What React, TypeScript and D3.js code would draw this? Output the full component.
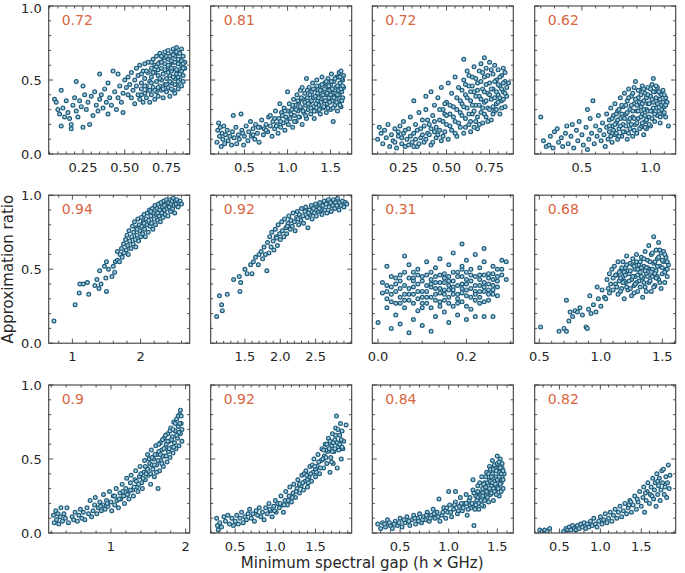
import * as d3 from 'd3';

type Pt = [number, number];

// scatter values, one array per panel (row, column)
const p11: Pt[] = [
  [0.08,0.37],[0.09,0.35],[0.10,0.30],[0.11,0.27],[0.12,0.43],[0.12,0.19],[0.13,0.31],[0.14,0.25],[0.15,0.36],[0.16,0.28],
  [0.17,0.24],[0.18,0.17],[0.18,0.20],[0.19,0.33],[0.20,0.38],[0.21,0.49],[0.21,0.29],[0.22,0.25],[0.23,0.36],[0.24,0.32],
  [0.25,0.18],[0.25,0.46],[0.26,0.40],[0.27,0.30],[0.28,0.35],[0.29,0.20],[0.30,0.39],[0.31,0.26],[0.32,0.42],[0.33,0.33],
  [0.34,0.29],[0.35,0.54],[0.35,0.37],[0.36,0.40],[0.37,0.31],[0.38,0.44],[0.39,0.35],[0.40,0.48],[0.40,0.27],[0.41,0.38],
  [0.42,0.33],[0.43,0.56],[0.44,0.42],[0.45,0.30],[0.46,0.54],[0.46,0.38],[0.47,0.46],[0.48,0.35],[0.49,0.41],[0.49,0.28],
  [0.50,0.50],[0.51,0.45],[0.52,0.40],[0.52,0.52],[0.53,0.47],[0.54,0.38],[0.54,0.55],[0.55,0.43],[0.56,0.50],[0.56,0.34],
  [0.57,0.58],[0.57,0.46],[0.58,0.40],[0.58,0.53],[0.59,0.37],[0.59,0.60],[0.60,0.48],[0.60,0.44],[0.61,0.56],[0.61,0.35],
  [0.62,0.41],[0.62,0.51],[0.62,0.61],[0.63,0.46],[0.63,0.38],[0.64,0.55],[0.64,0.62],[0.64,0.43],[0.65,0.49],[0.65,0.35],
  [0.66,0.58],[0.66,0.52],[0.66,0.40],[0.67,0.64],[0.67,0.45],[0.68,0.55],[0.68,0.37],[0.68,0.60],[0.69,0.49],[0.69,0.42],
  [0.69,0.66],[0.70,0.53],[0.70,0.57],[0.70,0.39],[0.71,0.46],[0.71,0.62],[0.71,0.68],[0.72,0.50],[0.72,0.43],[0.72,0.58],
  [0.73,0.65],[0.73,0.38],[0.73,0.54],[0.74,0.47],[0.74,0.61],[0.74,0.69],[0.75,0.51],[0.75,0.42],[0.75,0.57],[0.76,0.64],
  [0.76,0.45],[0.76,0.70],[0.77,0.53],[0.77,0.39],[0.77,0.60],[0.78,0.48],[0.78,0.67],[0.78,0.56],[0.79,0.43],[0.79,0.62],
  [0.79,0.71],[0.80,0.51],[0.80,0.58],[0.80,0.41],[0.80,0.66],[0.81,0.47],[0.81,0.54],[0.81,0.72],[0.82,0.61],[0.82,0.44],
  [0.82,0.68],[0.83,0.57],[0.83,0.50],[0.83,0.64],[0.84,0.46],[0.84,0.71],[0.84,0.60],[0.85,0.53],[0.85,0.66],[0.85,0.49],
  [0.86,0.58],[0.86,0.62],[0.78,0.63],[0.74,0.65],[0.70,0.61],[0.76,0.55],[0.80,0.69],[0.82,0.52],[0.72,0.66],[0.66,0.62],
  [0.60,0.54],[0.60,0.40],[0.62,0.46],[0.63,0.56],[0.65,0.43],[0.66,0.48],[0.67,0.55],[0.68,0.43],[0.69,0.59],[0.70,0.45],
  [0.71,0.51],[0.72,0.62],[0.73,0.44],[0.74,0.57],[0.75,0.66],[0.75,0.47],[0.76,0.60],[0.77,0.49],[0.77,0.66],[0.78,0.44],
  [0.78,0.58],[0.79,0.52],[0.79,0.67],[0.80,0.47],[0.80,0.62],[0.81,0.57],[0.81,0.69],[0.82,0.49],[0.82,0.64],[0.83,0.54],
  [0.83,0.68],[0.84,0.56],[0.84,0.63],[0.85,0.58],[0.85,0.61],
];

const p12: Pt[] = [
  [0.18,0.08],[0.19,0.16],[0.20,0.21],[0.21,0.12],[0.22,0.18],[0.23,0.05],[0.24,0.14],[0.25,0.10],[0.26,0.19],[0.27,0.07],
  [0.28,0.13],[0.30,0.16],[0.31,0.09],[0.33,0.12],[0.35,0.06],[0.36,0.15],[0.37,0.26],[0.38,0.11],[0.40,0.18],[0.41,0.07],
  [0.43,0.13],[0.44,0.10],[0.46,0.27],[0.47,0.16],[0.49,0.06],[0.50,0.12],[0.52,0.19],[0.54,0.09],[0.55,0.15],[0.57,0.22],
  [0.58,0.12],[0.60,0.17],[0.62,0.10],[0.63,0.20],[0.65,0.14],[0.67,0.08],[0.68,0.18],[0.70,0.23],[0.72,0.13],[0.73,0.17],
  [0.75,0.20],[0.77,0.15],[0.78,0.25],[0.80,0.26],[0.80,0.19],[0.82,0.12],[0.83,0.22],[0.85,0.17],[0.86,0.29],[0.88,0.20],
  [0.89,0.14],[0.90,0.24],[0.91,0.34],[0.92,0.18],[0.93,0.28],[0.95,0.21],[0.96,0.31],[0.97,0.16],[0.98,0.25],[1.00,0.42],
  [1.00,0.29],[1.01,0.20],[1.02,0.34],[1.03,0.24],[1.05,0.30],[1.06,0.18],[1.07,0.37],[1.08,0.26],[1.09,0.33],[1.10,0.22],
  [1.11,0.40],[1.12,0.29],[1.13,0.35],[1.14,0.25],[1.15,0.43],[1.16,0.31],[1.17,0.45],[1.17,0.20],[1.18,0.37],[1.19,0.28],
  [1.20,0.41],[1.21,0.33],[1.22,0.51],[1.22,0.24],[1.23,0.38],[1.24,0.30],[1.25,0.45],[1.26,0.35],[1.27,0.27],[1.28,0.42],
  [1.29,0.48],[1.30,0.32],[1.30,0.38],[1.31,0.24],[1.32,0.44],[1.33,0.29],[1.34,0.50],[1.35,0.36],[1.35,0.41],[1.36,0.33],
  [1.37,0.46],[1.38,0.27],[1.39,0.39],[1.40,0.52],[1.40,0.43],[1.41,0.31],[1.42,0.36],[1.43,0.48],[1.44,0.40],[1.45,0.28],
  [1.45,0.45],[1.46,0.34],[1.47,0.51],[1.48,0.38],[1.49,0.43],[1.50,0.30],[1.50,0.47],[1.51,0.54],[1.52,0.36],[1.53,0.22],
  [1.53,0.41],[1.54,0.49],[1.55,0.33],[1.56,0.45],[1.57,0.52],[1.57,0.39],[1.58,0.29],[1.59,0.43],[1.60,0.55],[1.60,0.36],
  [1.61,0.48],[1.62,0.56],[1.62,0.32],[1.63,0.42],[1.64,0.50],[1.64,0.38],[1.65,0.45],[1.65,0.53],
  [1.04,0.27],[1.06,0.33],[1.08,0.22],[1.10,0.30],[1.12,0.36],[1.13,0.25],[1.15,0.32],[1.16,0.38],[1.18,0.29],[1.20,0.35],
  [1.21,0.26],[1.23,0.43],[1.24,0.34],[1.26,0.40],[1.27,0.31],[1.28,0.36],[1.30,0.44],[1.31,0.29],[1.32,0.39],[1.33,0.34],
  [1.34,0.46],[1.36,0.38],[1.37,0.30],[1.38,0.43],[1.39,0.35],[1.40,0.47],[1.41,0.40],[1.42,0.32],[1.43,0.44],[1.44,0.36],
  [1.45,0.49],[1.46,0.41],[1.47,0.31],[1.48,0.46],[1.49,0.35],[1.50,0.40],[1.51,0.49],[1.52,0.44],[1.53,0.31],[1.54,0.38],
  [1.55,0.51],[1.56,0.41],[1.57,0.35],[1.58,0.46],[1.59,0.52],[1.60,0.40],[1.61,0.33],[1.62,0.44],[1.63,0.51],[1.64,0.46],
  [1.63,0.36],[1.61,0.52],[1.58,0.40],[0.92,0.22],[0.94,0.26],[0.97,0.29],[0.99,0.22],[0.85,0.24],[0.87,0.19],[0.75,0.16],
  [0.66,0.18],[0.60,0.13],[0.48,0.14],
];

const p13: Pt[] = [
  [0.10,0.10],[0.11,0.18],[0.12,0.14],[0.13,0.07],[0.14,0.16],[0.15,0.11],[0.16,0.20],[0.17,0.05],[0.18,0.13],[0.19,0.09],
  [0.20,0.17],[0.21,0.04],[0.22,0.12],[0.23,0.19],[0.24,0.07],[0.25,0.22],[0.25,0.14],[0.26,0.05],[0.27,0.10],[0.28,0.17],
  [0.29,0.25],[0.30,0.08],[0.31,0.36],[0.31,0.14],[0.32,0.20],[0.33,0.05],[0.34,0.28],[0.35,0.11],[0.35,0.17],[0.36,0.23],
  [0.37,0.08],[0.38,0.39],[0.38,0.30],[0.39,0.14],[0.40,0.20],[0.41,0.42],[0.41,0.06],[0.42,0.26],[0.43,0.33],[0.44,0.11],
  [0.44,0.18],[0.45,0.38],[0.46,0.23],[0.47,0.09],[0.47,0.45],[0.48,0.30],[0.49,0.15],[0.50,0.35],[0.50,0.20],[0.51,0.48],
  [0.51,0.10],[0.52,0.27],[0.53,0.41],[0.53,0.16],[0.54,0.32],[0.55,0.52],[0.55,0.22],[0.56,0.12],[0.56,0.38],[0.57,0.45],
  [0.58,0.28],[0.58,0.18],[0.59,0.34],[0.60,0.64],[0.60,0.50],[0.60,0.14],[0.61,0.40],[0.61,0.24],[0.62,0.56],[0.62,0.31],
  [0.63,0.20],[0.63,0.46],[0.64,0.36],[0.64,0.15],[0.65,0.52],[0.65,0.27],[0.66,0.42],[0.66,0.59],[0.67,0.22],[0.67,0.33],
  [0.68,0.48],[0.68,0.17],[0.69,0.39],[0.69,0.56],[0.70,0.28],[0.70,0.61],[0.71,0.44],[0.71,0.21],[0.72,0.65],[0.72,0.35],
  [0.72,0.52],[0.73,0.25],[0.73,0.58],[0.74,0.41],[0.74,0.31],[0.75,0.48],[0.75,0.62],[0.76,0.23],[0.76,0.37],[0.77,0.54],
  [0.77,0.44],[0.78,0.29],[0.78,0.60],[0.79,0.34],[0.79,0.50],[0.80,0.40],[0.80,0.57],[0.81,0.27],[0.81,0.46],[0.82,0.53],
  [0.82,0.36],[0.83,0.42],[0.83,0.58],[0.84,0.32],[0.84,0.49],[0.85,0.39],[0.85,0.45],[0.86,0.48],
  [0.46,0.16],[0.48,0.22],[0.49,0.27],[0.52,0.19],[0.52,0.33],[0.54,0.25],[0.55,0.14],[0.56,0.30],[0.57,0.21],[0.58,0.36],
  [0.59,0.43],[0.59,0.26],[0.60,0.32],[0.61,0.18],[0.61,0.47],[0.62,0.38],[0.63,0.27],[0.63,0.53],[0.64,0.42],[0.64,0.22],
  [0.65,0.33],[0.65,0.46],[0.66,0.18],[0.66,0.29],[0.67,0.39],[0.67,0.51],[0.68,0.25],[0.68,0.43],[0.69,0.33],[0.69,0.20],
  [0.70,0.37],[0.70,0.49],[0.71,0.31],[0.71,0.55],[0.72,0.27],[0.72,0.42],[0.73,0.36],[0.73,0.47],[0.74,0.22],[0.74,0.53],
  [0.75,0.30],[0.75,0.40],[0.76,0.44],[0.76,0.57],[0.77,0.32],[0.77,0.27],[0.78,0.38],[0.78,0.49],[0.79,0.42],[0.79,0.30],
  [0.80,0.35],[0.80,0.47],[0.81,0.52],[0.81,0.38],[0.82,0.44],[0.82,0.31],[0.83,0.37],[0.83,0.48],[0.84,0.41],[0.84,0.55],
  [0.20,0.08],[0.22,0.15],[0.24,0.11],[0.26,0.16],[0.28,0.06],[0.29,0.12],[0.31,0.05],[0.32,0.10],[0.33,0.16],[0.34,0.07],
  [0.36,0.13],[0.37,0.19],[0.38,0.10],[0.39,0.23],[0.40,0.13],[0.41,0.17],[0.42,0.08],[0.43,0.15],[0.43,0.22],[0.45,0.13],
  [0.46,0.30],[0.48,0.12],[0.49,0.34],[0.50,0.26],
];

const p14: Pt[] = [
  [0.20,0.25],[0.22,0.09],[0.24,0.05],[0.26,0.06],[0.27,0.12],[0.29,0.04],[0.30,0.15],[0.32,0.17],[0.33,0.08],[0.35,0.11],
  [0.36,0.05],[0.38,0.14],[0.39,0.19],[0.40,0.07],[0.42,0.12],[0.43,0.20],[0.44,0.04],[0.46,0.16],[0.47,0.09],[0.48,0.22],
  [0.50,0.13],[0.51,0.06],[0.53,0.18],[0.54,0.30],[0.54,0.03],[0.55,0.10],[0.56,0.24],[0.57,0.14],[0.58,0.36],[0.59,0.07],
  [0.60,0.19],[0.61,0.12],[0.62,0.26],[0.63,0.16],[0.64,0.09],[0.65,0.21],[0.66,0.13],[0.67,0.05],[0.68,0.18],[0.68,0.27],
  [0.69,0.10],[0.70,0.15],[0.70,0.23],[0.71,0.31],[0.72,0.08],[0.72,0.19],[0.73,0.26],[0.74,0.13],[0.74,0.34],[0.75,0.21],
  [0.76,0.10],[0.76,0.29],[0.77,0.17],[0.78,0.38],[0.78,0.24],[0.79,0.12],[0.80,0.32],[0.80,0.20],[0.81,0.41],[0.81,0.15],
  [0.82,0.27],[0.83,0.36],[0.83,0.10],[0.84,0.22],[0.84,0.44],[0.85,0.30],[0.85,0.17],[0.86,0.39],[0.87,0.25],[0.87,0.12],
  [0.88,0.34],[0.88,0.45],[0.89,0.20],[0.89,0.49],[0.90,0.29],[0.90,0.14],[0.91,0.38],[0.91,0.24],[0.92,0.43],[0.93,0.18],
  [0.93,0.32],[0.94,0.27],[0.94,0.46],[0.95,0.36],[0.95,0.13],[0.96,0.22],[0.96,0.41],[0.97,0.30],[0.97,0.17],[0.98,0.45],
  [0.98,0.34],[0.99,0.25],[1.00,0.39],[1.00,0.19],[1.01,0.47],[1.01,0.29],[1.02,0.51],[1.02,0.35],[1.03,0.22],[1.03,0.42],
  [1.04,0.31],[1.05,0.26],[1.05,0.45],[1.06,0.37],[1.07,0.21],[1.07,0.41],[1.08,0.33],[1.09,0.27],[1.09,0.43],[1.10,0.32],
  [1.11,0.38],[1.11,0.25],[1.13,0.19],[1.12,0.35],
  [0.70,0.19],[0.71,0.12],[0.72,0.24],[0.73,0.16],[0.74,0.20],[0.75,0.27],[0.75,0.14],[0.76,0.23],[0.77,0.30],[0.77,0.12],
  [0.78,0.19],[0.79,0.27],[0.79,0.33],[0.80,0.15],[0.81,0.24],[0.82,0.19],[0.82,0.33],[0.83,0.28],[0.84,0.14],[0.84,0.38],
  [0.85,0.24],[0.86,0.20],[0.86,0.33],[0.87,0.29],[0.87,0.41],[0.88,0.16],[0.88,0.24],[0.89,0.37],[0.90,0.21],[0.90,0.33],
  [0.91,0.43],[0.91,0.29],[0.92,0.17],[0.92,0.35],[0.93,0.25],[0.93,0.40],[0.94,0.21],[0.94,0.34],[0.95,0.30],[0.95,0.44],
  [0.96,0.26],[0.96,0.18],[0.97,0.38],[0.97,0.23],[0.98,0.29],[0.98,0.40],[0.99,0.34],[0.99,0.20],[1.00,0.44],[1.00,0.29],
  [1.01,0.24],[1.01,0.37],[1.02,0.31],[1.02,0.42],[1.03,0.27],[1.04,0.38],[1.04,0.46],[1.05,0.34],[1.06,0.29],[1.06,0.42],
  [1.07,0.25],[1.07,0.37],[1.08,0.30],[1.08,0.40],[1.09,0.35],[1.10,0.28],[1.10,0.40],[1.11,0.33],
];

const p21: Pt[] = [
  [0.73,0.15],[1.04,0.26],[1.10,0.34],[1.11,0.40],[1.16,0.40],[1.22,0.41],[1.24,0.33],[1.33,0.39],[1.36,0.43],[1.39,0.37],
  [1.40,0.49],[1.42,0.40],[1.47,0.52],[1.49,0.44],[1.50,0.55],[1.50,0.35],[1.53,0.50],[1.58,0.45],[1.60,0.52],[1.62,0.48],
  [1.63,0.55],[1.66,0.56],[1.66,0.62],[1.69,0.55],[1.70,0.60],[1.72,0.64],[1.73,0.58],[1.75,0.67],[1.76,0.61],[1.78,0.70],
  [1.79,0.63],[1.80,0.73],[1.81,0.66],[1.82,0.60],[1.83,0.76],[1.84,0.69],[1.86,0.64],[1.87,0.72],[1.88,0.79],[1.89,0.67],
  [1.90,0.75],[1.91,0.82],[1.92,0.70],[1.93,0.65],[1.94,0.78],[1.95,0.73],[1.96,0.84],[1.97,0.69],[1.98,0.80],[1.99,0.76],
  [2.00,0.72],[2.01,0.85],[2.02,0.79],[2.03,0.74],[2.04,0.82],[2.05,0.87],[2.06,0.77],[2.07,0.72],[2.08,0.84],[2.09,0.80],
  [2.10,0.88],[2.11,0.75],[2.12,0.83],[2.13,0.90],[2.14,0.79],[2.15,0.86],[2.16,0.81],[2.17,0.91],[2.18,0.77],[2.19,0.88],
  [2.20,0.84],[2.21,0.93],[2.22,0.80],[2.23,0.87],[2.24,0.91],[2.25,0.83],[2.26,0.94],[2.27,0.86],[2.28,0.90],[2.29,0.82],
  [2.30,0.95],[2.31,0.88],[2.32,0.92],[2.33,0.85],[2.34,0.96],[2.35,0.90],[2.36,0.87],[2.37,0.94],[2.38,0.97],[2.39,0.91],
  [2.40,0.86],[2.41,0.95],[2.42,0.92],[2.43,0.97],[2.44,0.89],[2.45,0.94],[2.46,0.96],[2.47,0.91],[2.48,0.98],[2.49,0.93],
  [2.50,0.88],[2.51,0.96],[2.52,0.94],[2.53,0.97],[2.55,0.92],[2.56,0.95],[2.58,0.96],[2.60,0.94],[2.25,0.88],[2.05,0.81],
  [1.95,0.77],[2.35,0.93],[2.15,0.89],
];

const p22: Pt[] = [
  [1.10,0.18],[1.14,0.32],[1.17,0.26],[1.18,0.22],[1.25,0.33],[1.34,0.43],[1.42,0.45],[1.43,0.35],[1.44,0.41],[1.50,0.50],
  [1.53,0.47],[1.58,0.53],[1.60,0.47],[1.62,0.55],[1.65,0.58],[1.69,0.53],[1.70,0.60],[1.73,0.62],[1.75,0.57],[1.77,0.65],
  [1.79,0.60],[1.81,0.49],[1.82,0.68],[1.84,0.61],[1.85,0.72],[1.87,0.65],[1.88,0.75],[1.90,0.69],[1.91,0.63],[1.93,0.77],
  [1.94,0.72],[1.96,0.66],[1.97,0.80],[1.99,0.74],[2.00,0.70],[2.02,0.82],[2.03,0.76],[2.05,0.72],[2.06,0.84],[2.08,0.78],
  [2.09,0.74],[2.11,0.81],[2.12,0.86],[2.14,0.77],[2.15,0.83],[2.17,0.79],[2.18,0.88],[2.20,0.82],[2.21,0.76],[2.23,0.85],
  [2.24,0.89],[2.26,0.80],[2.27,0.87],[2.29,0.83],[2.30,0.91],[2.32,0.86],[2.33,0.81],[2.35,0.89],[2.36,0.92],[2.38,0.85],
  [2.39,0.78],[2.41,0.90],[2.42,0.87],[2.44,0.93],[2.45,0.84],[2.47,0.91],[2.48,0.88],[2.50,0.94],[2.51,0.86],[2.53,0.92],
  [2.54,0.89],[2.56,0.95],[2.57,0.90],[2.59,0.87],[2.60,0.93],[2.62,0.96],[2.63,0.90],[2.65,0.94],[2.66,0.88],[2.68,0.97],
  [2.69,0.92],[2.71,0.95],[2.72,0.89],[2.74,0.93],[2.75,0.97],[2.77,0.91],[2.78,0.95],[2.80,0.93],[2.81,0.98],[2.83,0.90],
  [2.84,0.95],[2.86,0.93],[2.88,0.96],[2.90,0.92],[2.92,0.95],[2.94,0.94],[2.10,0.79],[2.25,0.84],[2.40,0.88],[2.55,0.91],
  [1.95,0.71],
];

const p23: Pt[] = [
  [0.00,0.14],[0.01,0.34],[0.01,0.41],[0.02,0.24],[0.02,0.52],[0.02,0.30],[0.03,0.10],[0.03,0.38],[0.03,0.45],[0.04,0.27],
  [0.04,0.19],[0.04,0.35],[0.05,0.42],[0.05,0.13],[0.05,0.31],[0.06,0.59],[0.06,0.24],[0.06,0.48],[0.07,0.07],[0.07,0.37],
  [0.07,0.29],[0.07,0.53],[0.08,0.16],[0.08,0.44],[0.08,0.33],[0.09,0.22],[0.09,0.40],[0.09,0.50],[0.10,0.27],[0.10,0.35],
  [0.10,0.12],[0.11,0.46],[0.11,0.31],[0.11,0.55],[0.12,0.08],[0.12,0.38],[0.12,0.24],[0.12,0.43],[0.13,0.18],[0.13,0.51],
  [0.13,0.33],[0.14,0.28],[0.14,0.41],[0.14,0.57],[0.15,0.21],[0.15,0.36],[0.15,0.47],[0.16,0.14],[0.16,0.31],[0.16,0.53],
  [0.16,0.42],[0.17,0.25],[0.17,0.38],[0.17,0.61],[0.18,0.19],[0.18,0.45],[0.18,0.33],[0.19,0.67],[0.19,0.28],[0.19,0.50],
  [0.19,0.40],[0.20,0.16],[0.20,0.36],[0.20,0.56],[0.21,0.23],[0.21,0.46],[0.21,0.31],[0.22,0.60],[0.22,0.39],[0.22,0.18],
  [0.23,0.51],[0.23,0.27],[0.23,0.43],[0.24,0.64],[0.24,0.18],[0.24,0.35],[0.24,0.55],[0.25,0.29],[0.25,0.47],[0.25,0.40],
  [0.26,0.18],[0.26,0.52],[0.26,0.33],[0.27,0.45],[0.27,0.38],[0.28,0.50],[0.28,0.56],[0.29,0.55],[0.29,0.43],[0.03,0.33],
  [0.05,0.37],[0.08,0.38],[0.10,0.42],[0.13,0.37],[0.15,0.41],[0.17,0.33],[0.18,0.39],[0.20,0.43],[0.21,0.37],[0.23,0.35],
  [0.25,0.36],[0.22,0.45],[0.19,0.34],[0.14,0.34],[0.11,0.39],[0.06,0.33],[0.09,0.30],[0.12,0.31],[0.16,0.36],[0.24,0.41],
  [0.26,0.43],[0.20,0.48],[0.17,0.48],[0.13,0.45],[0.07,0.44],[0.04,0.40],[0.27,0.32],[0.22,0.29],[0.18,0.27],[0.15,0.29],
  [0.10,0.24],[0.02,0.39],[0.09,0.46],[0.23,0.39],[0.19,0.45],[0.14,0.46],[0.26,0.39],
  [0.02,0.35],[0.03,0.28],[0.04,0.44],[0.05,0.27],[0.06,0.39],[0.06,0.29],[0.07,0.33],[0.08,0.27],[0.08,0.48],[0.09,0.35],
  [0.10,0.31],[0.11,0.35],[0.11,0.27],[0.12,0.48],[0.13,0.29],[0.13,0.41],[0.14,0.37],[0.15,0.33],[0.15,0.44],[0.16,0.39],
  [0.16,0.27],[0.17,0.42],[0.17,0.36],[0.18,0.30],[0.18,0.48],[0.19,0.37],[0.20,0.32],[0.20,0.40],[0.21,0.42],[0.21,0.50],
  [0.22,0.35],[0.22,0.33],[0.23,0.46],[0.23,0.31],[0.24,0.38],[0.24,0.46],[0.25,0.33],[0.25,0.44],[0.26,0.36],[0.26,0.47],
  [0.27,0.42],[0.27,0.50],[0.28,0.46],[0.19,0.52],[0.16,0.45],[0.12,0.40],[0.08,0.42],[0.05,0.46],[0.14,0.25],[0.20,0.25],
  [0.24,0.28],[0.10,0.45],
];

const p24: Pt[] = [
  [0.51,0.11],[0.66,0.08],[0.70,0.10],[0.72,0.08],[0.72,0.29],[0.74,0.15],[0.75,0.21],[0.77,0.18],[0.79,0.22],[0.81,0.21],
  [0.83,0.24],[0.85,0.19],[0.88,0.11],[0.89,0.10],[0.90,0.23],[0.91,0.32],[0.92,0.20],[0.94,0.26],[0.96,0.21],[0.97,0.38],
  [0.98,0.30],[1.00,0.25],[1.01,0.36],[1.03,0.31],[1.04,0.30],[1.05,0.43],[1.06,0.37],[1.07,0.47],[1.07,0.34],[1.08,0.40],
  [1.09,0.50],[1.10,0.44],[1.10,0.36],[1.11,0.52],[1.12,0.40],[1.13,0.46],[1.14,0.33],[1.14,0.55],[1.15,0.42],[1.16,0.49],
  [1.17,0.37],[1.18,0.45],[1.18,0.55],[1.19,0.30],[1.20,0.41],[1.20,0.51],[1.21,0.59],[1.22,0.36],[1.23,0.47],[1.24,0.54],
  [1.25,0.43],[1.25,0.32],[1.26,0.57],[1.27,0.39],[1.28,0.50],[1.28,0.45],[1.29,0.60],[1.30,0.35],[1.31,0.53],[1.31,0.42],
  [1.32,0.48],[1.33,0.58],[1.34,0.31],[1.34,0.44],[1.35,0.52],[1.36,0.62],[1.36,0.38],[1.37,0.47],[1.38,0.56],[1.39,0.41],
  [1.39,0.66],[1.40,0.50],[1.41,0.35],[1.41,0.60],[1.42,0.45],[1.43,0.72],[1.43,0.54],[1.44,0.39],[1.45,0.63],[1.45,0.49],
  [1.46,0.57],[1.47,0.43],[1.47,0.68],[1.48,0.52],[1.49,0.37],[1.49,0.61],[1.50,0.47],[1.51,0.62],[1.51,0.55],[1.52,0.41],
  [1.53,0.58],[1.53,0.50],[1.54,0.45],[1.55,0.53],[1.22,0.49],[1.30,0.46],[1.38,0.51],[1.44,0.55],[1.16,0.44],[1.26,0.53],
  [1.12,0.46],[1.13,0.38],[1.15,0.48],[1.16,0.35],[1.17,0.51],[1.19,0.42],[1.19,0.48],[1.21,0.38],[1.21,0.53],[1.23,0.42],
  [1.24,0.49],[1.24,0.37],[1.26,0.45],[1.27,0.52],[1.27,0.34],[1.29,0.41],[1.29,0.55],[1.30,0.50],[1.32,0.38],[1.32,0.55],
  [1.33,0.45],[1.35,0.41],[1.35,0.57],[1.37,0.51],[1.37,0.35],[1.38,0.45],[1.40,0.55],[1.40,0.42],[1.42,0.50],[1.42,0.61],
  [1.43,0.38],[1.44,0.47],[1.46,0.52],[1.46,0.45],[1.47,0.58],[1.48,0.41],[1.48,0.63],[1.50,0.56],[1.50,0.51],[1.52,0.48],
  [1.52,0.60],[1.54,0.55],[1.54,0.50],[1.36,0.49],[1.28,0.40],[1.20,0.46],[1.33,0.51],[1.41,0.48],[1.45,0.44],[1.18,0.41],
];

const p31: Pt[] = [
  [0.23,0.12],[0.24,0.07],[0.26,0.15],[0.27,0.09],[0.29,0.13],[0.30,0.06],[0.32,0.11],[0.33,0.17],[0.35,0.08],[0.37,0.13],
  [0.39,0.10],[0.41,0.17],[0.43,0.07],[0.48,0.11],[0.50,0.09],[0.52,0.14],[0.55,0.08],[0.57,0.12],[0.59,0.16],[0.61,0.10],
  [0.63,0.14],[0.65,0.09],[0.68,0.17],[0.70,0.13],[0.72,0.22],[0.74,0.11],[0.76,0.15],[0.78,0.19],[0.79,0.24],[0.81,0.13],
  [0.83,0.17],[0.85,0.21],[0.87,0.15],[0.89,0.19],[0.90,0.26],[0.92,0.16],[0.94,0.22],[0.96,0.18],[0.98,0.28],[1.00,0.21],
  [1.01,0.15],[1.03,0.25],[1.05,0.19],[1.07,0.30],[1.08,0.22],[1.10,0.17],[1.12,0.27],[1.13,0.23],[1.15,0.33],[1.17,0.25],
  [1.18,0.20],[1.20,0.30],[1.21,0.37],[1.23,0.27],[1.24,0.23],[1.26,0.34],[1.27,0.39],[1.29,0.29],[1.30,0.25],[1.32,0.36],
  [1.33,0.42],[1.35,0.31],[1.36,0.28],[1.38,0.38],[1.39,0.45],[1.41,0.34],[1.42,0.30],[1.44,0.41],[1.45,0.49],[1.46,0.36],
  [1.48,0.44],[1.49,0.53],[1.50,0.39],[1.52,0.47],[1.53,0.33],[1.54,0.56],[1.56,0.43],[1.57,0.50],[1.58,0.38],[1.60,0.59],
  [1.61,0.46],[1.62,0.53],[1.63,0.30],[1.65,0.42],[1.66,0.61],[1.67,0.49],[1.68,0.56],[1.70,0.45],[1.71,0.64],[1.72,0.52],
  [1.73,0.58],[1.75,0.48],[1.76,0.67],[1.77,0.55],[1.78,0.62],[1.79,0.51],[1.80,0.71],[1.81,0.58],[1.82,0.65],[1.83,0.54],
  [1.84,0.75],[1.85,0.61],[1.86,0.69],[1.87,0.57],[1.88,0.77],[1.89,0.64],[1.90,0.72],[1.91,0.59],[1.92,0.80],[1.93,0.67],
  [1.94,0.74],[1.95,0.62],[1.93,0.83],[1.95,0.70],[1.74,0.60],[1.64,0.55],[1.55,0.46],[1.47,0.40],[1.69,0.52],
  [1.31,0.31],[1.34,0.35],[1.37,0.33],[1.40,0.40],[1.43,0.37],[1.46,0.45],[1.49,0.43],[1.51,0.50],[1.53,0.40],[1.55,0.51],
  [1.58,0.46],[1.59,0.53],[1.61,0.41],[1.63,0.49],[1.64,0.60],[1.66,0.53],[1.68,0.47],[1.69,0.63],[1.71,0.57],[1.73,0.66],
  [1.74,0.52],[1.76,0.62],[1.78,0.57],[1.79,0.69],[1.81,0.63],[1.83,0.70],[1.84,0.58],[1.86,0.74],[1.88,0.66],[1.90,0.79],
  [1.91,0.68],[1.92,0.74],[1.94,0.79],[1.11,0.23],[1.16,0.28],[1.22,0.26],[1.26,0.29],[1.05,0.25],[0.95,0.20],[0.86,0.18],
];

const p32: Pt[] = [
  [0.27,0.10],[0.28,0.05],[0.29,0.02],[0.31,0.07],[0.33,0.04],[0.36,0.11],[0.38,0.08],[0.41,0.12],[0.43,0.06],[0.46,0.10],
  [0.48,0.05],[0.50,0.08],[0.52,0.12],[0.54,0.06],[0.56,0.10],[0.58,0.14],[0.60,0.07],[0.62,0.11],[0.64,0.09],[0.66,0.13],
  [0.68,0.16],[0.70,0.10],[0.72,0.13],[0.74,0.08],[0.76,0.15],[0.78,0.12],[0.80,0.17],[0.82,0.11],[0.84,0.14],[0.86,0.09],
  [0.88,0.17],[0.90,0.13],[0.92,0.20],[0.94,0.15],[0.96,0.11],[0.98,0.18],[1.00,0.22],[1.01,0.14],[1.03,0.20],[1.05,0.17],
  [1.07,0.25],[1.08,0.19],[1.10,0.14],[1.12,0.22],[1.13,0.28],[1.15,0.19],[1.17,0.25],[1.18,0.31],[1.20,0.21],[1.22,0.27],
  [1.23,0.33],[1.25,0.24],[1.27,0.30],[1.28,0.36],[1.30,0.27],[1.32,0.32],[1.33,0.39],[1.35,0.29],[1.37,0.35],[1.38,0.42],
  [1.40,0.31],[1.42,0.38],[1.43,0.45],[1.45,0.35],[1.47,0.41],[1.48,0.50],[1.50,0.38],[1.52,0.45],[1.53,0.53],[1.55,0.40],
  [1.57,0.49],[1.58,0.57],[1.60,0.44],[1.61,0.52],[1.62,0.60],[1.64,0.47],[1.65,0.55],[1.66,0.64],[1.68,0.41],[1.69,0.51],
  [1.70,0.59],[1.71,0.67],[1.72,0.47],[1.73,0.55],[1.74,0.63],[1.75,0.71],[1.76,0.79],[1.77,0.44],[1.78,0.58],[1.79,0.56],
  [1.80,0.66],[1.81,0.74],[1.82,0.50],[1.83,0.69],[1.85,0.62],[1.88,0.73],[1.84,0.57],[1.70,0.48],[1.60,0.50],[1.50,0.43],
  [1.40,0.36],[1.63,0.56],
  [1.30,0.33],[1.34,0.34],[1.36,0.40],[1.39,0.39],[1.41,0.34],[1.44,0.40],[1.46,0.46],[1.49,0.45],[1.51,0.41],[1.54,0.48],
  [1.56,0.44],[1.59,0.50],[1.60,0.56],[1.63,0.51],[1.64,0.60],[1.67,0.57],[1.68,0.62],[1.71,0.55],[1.72,0.61],[1.74,0.57],
  [1.75,0.66],[1.77,0.61],[1.78,0.70],[1.80,0.60],[1.82,0.63],[1.83,0.58],[1.21,0.24],[1.16,0.22],[1.11,0.19],[1.06,0.20],
  [1.26,0.28],[0.99,0.15],[0.93,0.16],
];

const p33: Pt[] = [
  [0.27,0.06],[0.30,0.03],[0.32,0.07],[0.35,0.04],[0.37,0.09],[0.40,0.05],[0.42,0.03],[0.45,0.08],[0.47,0.05],[0.50,0.10],
  [0.52,0.04],[0.55,0.07],[0.57,0.11],[0.60,0.05],[0.62,0.09],[0.64,0.12],[0.66,0.06],[0.68,0.10],[0.70,0.13],[0.72,0.07],
  [0.74,0.11],[0.76,0.09],[0.78,0.14],[0.80,0.08],[0.82,0.12],[0.84,0.16],[0.86,0.10],[0.88,0.14],[0.90,0.23],[0.91,0.08],
  [0.93,0.12],[0.95,0.17],[0.97,0.10],[0.99,0.14],[1.00,0.28],[1.01,0.19],[1.03,0.11],[1.05,0.16],[1.07,0.28],[1.07,0.21],
  [1.09,0.13],[1.11,0.18],[1.12,0.24],[1.14,0.15],[1.16,0.20],[1.18,0.26],[1.19,0.12],[1.21,0.22],[1.23,0.17],[1.25,0.36],
  [1.25,0.29],[1.26,0.05],[1.27,0.20],[1.28,0.25],[1.30,0.32],[1.31,0.16],[1.32,0.27],[1.33,0.22],[1.34,0.38],[1.35,0.30],
  [1.36,0.18],[1.37,0.34],[1.38,0.25],[1.39,0.41],[1.40,0.29],[1.41,0.21],[1.42,0.45],[1.42,0.36],[1.43,0.26],[1.44,0.32],
  [1.45,0.49],[1.45,0.40],[1.46,0.22],[1.47,0.35],[1.48,0.44],[1.48,0.28],[1.49,0.38],[1.50,0.52],[1.50,0.31],[1.51,0.46],
  [1.52,0.25],[1.52,0.41],[1.53,0.50],[1.54,0.34],[1.55,0.44],[1.55,0.38],[1.56,0.30],[1.57,0.40],[1.38,0.31],[1.30,0.24],
  [1.22,0.19],[1.46,0.30],[1.51,0.36],[1.15,0.17],[1.44,0.38],
  [1.20,0.16],[1.22,0.24],[1.24,0.20],[1.26,0.27],[1.27,0.16],[1.29,0.22],[1.30,0.28],[1.31,0.20],[1.32,0.34],[1.33,0.26],
  [1.34,0.19],[1.35,0.27],[1.36,0.33],[1.37,0.22],[1.38,0.38],[1.39,0.28],[1.40,0.34],[1.40,0.24],[1.41,0.40],[1.42,0.30],
  [1.43,0.35],[1.43,0.43],[1.44,0.27],[1.45,0.34],[1.46,0.43],[1.47,0.28],[1.47,0.46],[1.48,0.33],[1.49,0.42],[1.49,0.26],
  [1.50,0.36],[1.50,0.47],[1.51,0.30],[1.52,0.38],[1.52,0.48],[1.53,0.33],[1.53,0.44],[1.54,0.40],[1.54,0.28],[1.55,0.47],
  [1.56,0.36],[1.56,0.42],[1.35,0.25],[1.28,0.19],[1.18,0.20],[1.13,0.20],[1.10,0.15],[1.06,0.19],[1.02,0.14],[0.98,0.17],
  [0.94,0.14],[0.89,0.11],[0.85,0.13],[0.81,0.10],[0.77,0.12],[0.73,0.09],[0.69,0.08],[0.65,0.10],[0.59,0.08],[0.54,0.09],
  [0.49,0.07],[0.44,0.06],[0.39,0.07],[0.34,0.06],
];

const p34: Pt[] = [
  [0.26,0.02],[0.29,0.01],[0.32,0.02],[0.35,0.01],[0.38,0.03],[0.55,0.01],[0.58,0.03],[0.60,0.02],[0.62,0.04],[0.64,0.02],
  [0.66,0.05],[0.68,0.03],[0.70,0.02],[0.72,0.05],[0.74,0.03],[0.76,0.06],[0.78,0.04],[0.80,0.07],[0.82,0.03],[0.84,0.06],
  [0.86,0.04],[0.88,0.08],[0.90,0.05],[0.92,0.10],[0.94,0.06],[0.96,0.04],[0.98,0.08],[1.00,0.11],[1.02,0.06],[1.04,0.09],
  [1.06,0.13],[1.08,0.07],[1.10,0.10],[1.12,0.14],[1.14,0.08],[1.16,0.12],[1.18,0.16],[1.20,0.10],[1.22,0.14],[1.24,0.18],
  [1.26,0.11],[1.28,0.15],[1.30,0.20],[1.32,0.13],[1.34,0.17],[1.36,0.22],[1.37,0.21],[1.38,0.14],[1.40,0.19],[1.42,0.25],
  [1.44,0.16],[1.46,0.21],[1.48,0.28],[1.50,0.18],[1.52,0.24],[1.53,0.31],[1.54,0.14],[1.56,0.22],[1.57,0.28],[1.58,0.34],
  [1.60,0.20],[1.61,0.26],[1.62,0.31],[1.64,0.37],[1.65,0.23],[1.66,0.29],[1.67,0.34],[1.68,0.18],[1.69,0.40],[1.70,0.26],
  [1.71,0.32],[1.72,0.37],[1.73,0.22],[1.74,0.29],[1.75,0.42],[1.76,0.34],[1.77,0.43],[1.78,0.26],[1.79,0.31],[1.80,0.38],
  [1.81,0.24],[1.82,0.34],[1.83,0.46],[1.84,0.30],[1.85,0.39],[1.45,0.23],[1.55,0.27],[1.63,0.25],[1.70,0.35],[1.35,0.19],
];

// correlation shown in each panel
const corrLabels = ['0.72', '0.81', '0.72', '0.62', '0.94', '0.92', '0.31', '0.68', '0.9', '0.92', '0.84', '0.82'];

// x ranges and tick labels per panel
const xDomains: [number, number][] = [
  [0.045, 0.889], [0.108, 1.745], [0.069, 0.888], [0.156, 1.183],
  [0.653, 2.72], [1.016, 3.01], [-0.013, 0.306], [0.462, 1.609],
  [0.166, 2.054], [0.196, 1.95], [0.214, 1.665], [0.198, 1.92],
];
const xTickLabels: string[][] = [
  ['0.25', '0.50', '0.75'], ['0.5', '1.0', '1.5'], ['0.25', '0.50', '0.75'], ['0.5', '1.0'],
  ['1', '2'], ['1.5', '2.0', '2.5'], ['0.0', '0.2'], ['0.5', '1.0', '1.5'],
  ['1', '2'], ['0.5', '1.0', '1.5'], ['0.5', '1.0', '1.5'], ['0.5', '1.0', '1.5'],
];
const xMinorSteps = [0.05, 0.1, 0.05, 0.1, 0.2, 0.1, 0.05, 0.1, 0.2, 0.1, 0.1, 0.1];

const yTickLabels = ['0.0', '0.5', '1.0'];
const panelData = [p11, p12, p13, p14, p21, p22, p23, p24, p31, p32, p33, p34];

const LEFTS = [48.7, 210.7, 372.3, 534.7];
const TOPS = [6, 195.2, 385];
const W = 141;
const H = 148;
const FONT = 'DejaVu Sans, sans-serif';
const TEXT = '#262626';
const SPINE = '#3d3d3d';

function minorTicks(domain: [number, number], step: number, majors: number[]) {
  const out: number[] = [];
  const k0 = Math.ceil(domain[0] / step - 1e-9);
  const k1 = Math.floor(domain[1] / step + 1e-9);
  for (let k = k0; k <= k1; k++) {
    const v = +(k * step).toFixed(6);
    if (!majors.some(m => Math.abs(m - v) < 1e-6)) out.push(v);
  }
  return out;
}

function Panel({ i }: { i: number }) {
  const row = Math.floor(i / 4);
  const col = i % 4;
  const x0 = LEFTS[col];
  const y0 = TOPS[row];
  const x = d3.scaleLinear().domain(xDomains[i]).range([x0, x0 + W]);
  const y = d3.scaleLinear().domain([0, 1]).range([y0 + H, y0]);
  const xMajor = xTickLabels[i].map(Number);
  const xMinor = minorTicks(xDomains[i], xMinorSteps[i], xMajor);
  const yMajor = yTickLabels.map(Number);
  const yMinor = minorTicks([0, 1], 0.1, yMajor);
  const clipId = `clip-${i}`;
  const MAJ = 4.5;
  const MIN = 2.5;

  return (
    <g>
      <defs>
        <clipPath id={clipId}>
          <rect x={x0} y={y0} width={W} height={H} />
        </clipPath>
      </defs>
      <g clipPath={`url(#${clipId})`}>
        {panelData[i].map((d, j) => (
          <circle key={j} cx={x(d[0])} cy={y(d[1])} r={1.9}
            fill="#a2cde0" stroke="#1f5b79" strokeWidth={1.2} />
        ))}
      </g>
      <text x={x0 + 13} y={y0 + 19} fill="#d9653f" fontSize={14} fontFamily={FONT}>
        {corrLabels[i]}
      </text>
      <g stroke={SPINE} strokeWidth={0.9}>
        {xMajor.map(v => (
          <g key={'xM' + v}>
            <line x1={x(v)} x2={x(v)} y1={y0 + H} y2={y0 + H - MAJ} />
            <line x1={x(v)} x2={x(v)} y1={y0} y2={y0 + MAJ} />
          </g>
        ))}
        {xMinor.map(v => (
          <g key={'xm' + v}>
            <line x1={x(v)} x2={x(v)} y1={y0 + H} y2={y0 + H - MIN} />
            <line x1={x(v)} x2={x(v)} y1={y0} y2={y0 + MIN} />
          </g>
        ))}
        {yMajor.map(v => (
          <g key={'yM' + v}>
            <line x1={x0} x2={x0 + MAJ} y1={y(v)} y2={y(v)} />
            <line x1={x0 + W} x2={x0 + W - MAJ} y1={y(v)} y2={y(v)} />
          </g>
        ))}
        {yMinor.map(v => (
          <g key={'ym' + v}>
            <line x1={x0} x2={x0 + MIN} y1={y(v)} y2={y(v)} />
            <line x1={x0 + W} x2={x0 + W - MIN} y1={y(v)} y2={y(v)} />
          </g>
        ))}
      </g>
      <rect x={x0} y={y0} width={W} height={H} fill="none" stroke={SPINE} strokeWidth={1.1} />
      {xTickLabels[i].map(t => (
        <text key={'xl' + t} x={x(+t)} y={y0 + H + 18} textAnchor="middle"
          fontSize={13} fontFamily={FONT} fill={TEXT}>{t}</text>
      ))}
      {col === 0 && yTickLabels.map(t => (
        <text key={'yl' + t} x={x0 - 7} y={Math.max(y(+t) + 5, 12.5)} textAnchor="end"
          fontSize={13} fontFamily={FONT} fill={TEXT}>{t}</text>
      ))}
    </g>
  );
}

export default function App() {
  const midX = (LEFTS[0] + LEFTS[3] + W) / 2;
  const midY = TOPS[1] + H / 2;
  return (
    <svg width={685} height={573} style={{ position: 'absolute', left: 0, top: 0, background: '#fff' }}>
      {panelData.map((_, i) => <Panel key={i} i={i} />)}
      <text x={midX} y={568} textAnchor="middle" fontSize={15} fontFamily={FONT} fill={TEXT}>
        Minimum spectral gap (h{'\u2009\u00d7\u2009'}GHz)
      </text>
      <text transform={`translate(13,${midY}) rotate(-90)`} textAnchor="middle" fontSize={15}
        fontFamily={FONT} fill={TEXT}>
        Approximation ratio
      </text>
    </svg>
  );
}
